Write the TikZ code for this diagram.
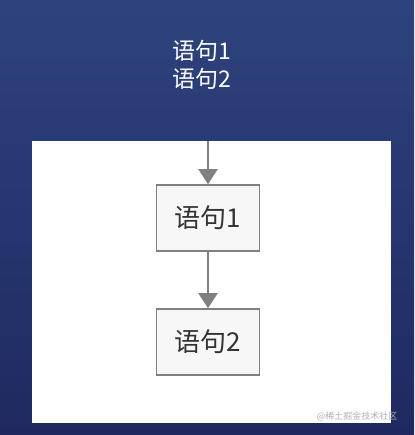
\documentclass[tikz,border=0pt]{standalone}
\usepackage{fontspec}
\setmainfont{Noto Sans CJK SC}
\definecolor{bgtop}{RGB}{46,67,125}
\definecolor{bgbot}{RGB}{31,41,96}
\definecolor{edge}{RGB}{128,128,128}
\definecolor{boxfill}{RGB}{247,247,247}
\tikzset{
  stmt/.style={draw=edge,line width=1.6pt,fill=boxfill,minimum width=103pt,minimum height=66pt,inner sep=0pt,font=\fontsize{26}{30}\selectfont,text=black!80},
  flow/.style={draw=edge,line width=2pt,-{Triangle[width=19pt,length=15pt]}}
}
\usetikzlibrary{arrows.meta}
\begin{document}
\begin{tikzpicture}[x=1pt,y=-1pt]
\shade[top color=bgtop,bottom color=bgbot] (0,0) rectangle (414,435);
\useasboundingbox (0,0) rectangle (414,435);
\fill[white] (32,141) rectangle (391,423);
\node (code) [align=center,text=white,font=\fontsize{23}{28}\selectfont] at (202,65) {语句1\\语句2};
\coordinate (in) at (208,141);
\node (s1) [stmt] at (208,218) {语句1};
\node (s2) [stmt] at (208,342) {语句2};
\draw[flow] (in) -- (s1.north);
\draw[flow] (s1) -- (s2);
\node (wm) [text=black!30,font=\fontsize{9}{11}\selectfont,anchor=east] at (401,416) {@稀土掘金技术社区};
\end{tikzpicture}
\end{document}
